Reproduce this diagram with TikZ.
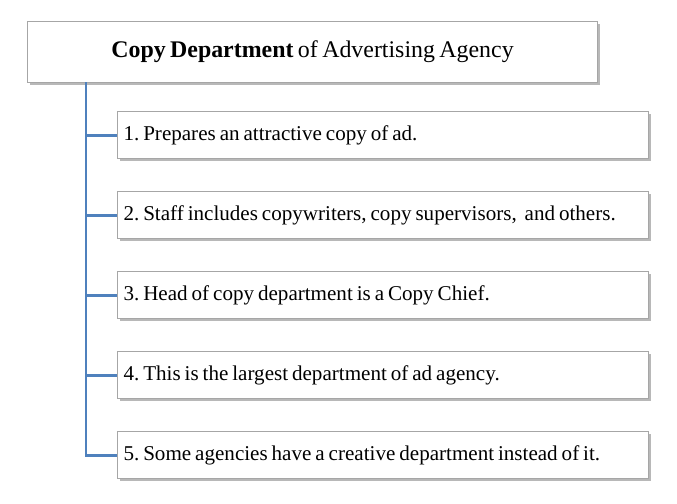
\documentclass[tikz,border=0pt]{standalone}
\usepackage{fontspec}
\setmainfont[WordSpace=0.75]{Liberation Serif}
\usetikzlibrary{shadows}
\definecolor{linkblue}{HTML}{4F81BD}
\definecolor{boxgray}{HTML}{A6A6A6}
\frenchspacing
\begin{document}
\begin{tikzpicture}[x=0.75pt,y=-0.75pt,
  box/.style={draw=boxgray, line width=0.8pt, fill=white, rectangle, anchor=north west,
    drop shadow={shadow xshift=2pt, shadow yshift=-2pt, fill=black!35, opacity=0.8}},
  titlebox/.style={box, minimum width=570*0.75pt, minimum height=61*0.75pt, font=\fontsize{17.9pt}{20pt}\selectfont},
  itembox/.style={box, minimum width=531*0.75pt, minimum height=47*0.75pt, text width=519*0.75pt, inner xsep=6*0.75pt, align=flush left, font=\fontsize{15.8pt}{18pt}\selectfont},
  link/.style={linkblue, line width=2.2pt}]
\useasboundingbox (0,0) rectangle (677,503);
\node[titlebox] (title) at (27,21) {\textbf{Copy Department} of Advertising Agency};
\node[itembox] (i1) at (117,111) {1. Prepares an attractive copy of ad.};
\node[itembox] (i2) at (117,191) {2. Staff includes copywriters, copy supervisors,\ \ and others.};
\node[itembox] (i3) at (117,271) {3. Head of copy department is a Copy Chief.};
\node[itembox] (i4) at (117,351) {4. This is the largest department of ad agency.};
\node[itembox] (i5) at (117,431) {5. Some agencies have a creative department instead of it.};
\coordinate (top) at (86,82);
\draw[link] (top) |- (i5.west);
\foreach \n in {1,2,3,4}{
  \draw[link] (top |- i\n.west) -- (i\n.west);
}
\end{tikzpicture}
\end{document}
